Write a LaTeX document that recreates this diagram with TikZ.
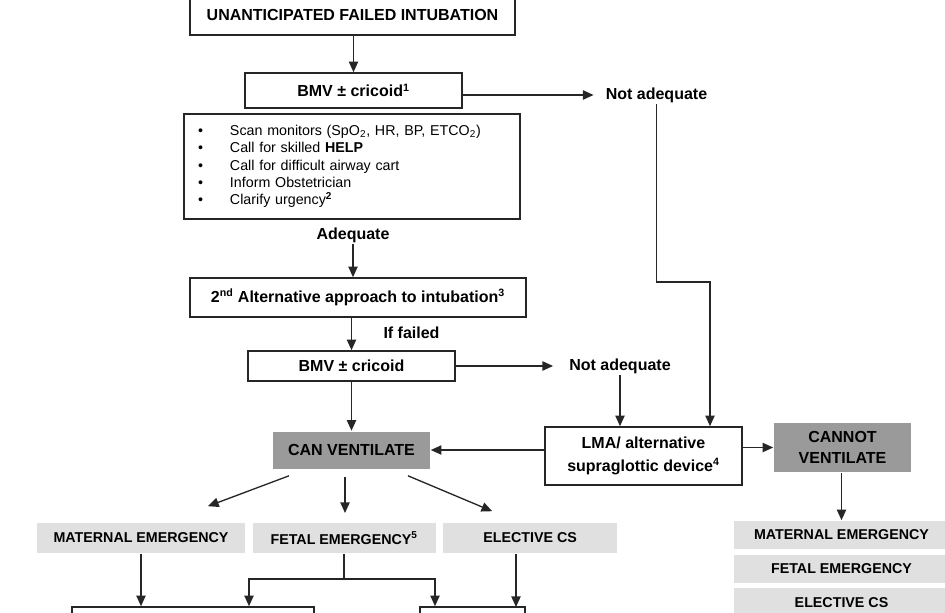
\documentclass[tikz,border=0pt]{standalone}
\usepackage{fontspec}
\setmainfont{Liberation Sans}
\usetikzlibrary{arrows.meta,positioning}
\definecolor{ink}{HTML}{262626}
\definecolor{shade}{HTML}{9A9A9A}
\definecolor{pale}{HTML}{E0E0E0}
\tikzset{
  basebox/.style={draw=ink,line width=1.2pt,fill=white,align=center,inner sep=0pt,font=\fontsize{12}{17}\selectfont\bfseries},
  shadebox/.style={basebox,draw=none,fill=shade},
  palebox/.style={basebox,draw=none,fill=pale,font=\fontsize{10.7}{13}\selectfont\bfseries},
  lbl/.style={inner sep=1pt,font=\fontsize{12}{14}\selectfont\bfseries},
  flow/.style={-{Triangle[length=8pt,width=7pt]},line width=1pt,draw=ink},
  link/.style={line width=1pt,draw=ink}
}

\begin{document}
\begin{tikzpicture}[x=0.75pt,y=-0.75pt,
    rowbox/.style={palebox,minimum height=22.5pt},
    stackbox/.style={palebox,minimum width=161.25pt,minimum height=21pt}
  ]
  \useasboundingbox (0,0) rectangle (945,613);
  % main column
  \node[basebox,minimum width=243.75pt,minimum height=30pt] (unant) at (352.5,15) {UNANTICIPATED FAILED INTUBATION};
  \node[basebox,minimum width=162.75pt,minimum height=26.25pt] (bmv1) at (353.5,90.5) {BMV ± cricoid\textsuperscript{1}};
  \node[lbl] (na1) at (656.5,95) {Not adequate};
  \node[basebox,font=\fontsize{10.7}{13}\selectfont,text width=231pt,inner xsep=10.5pt,minimum height=78.75pt,align=left] (checks) at (352,166.5) {%
    \makebox[24pt][l]{\textbullet}Scan monitors (SpO\textsubscript{2}, HR, BP, ETCO\textsubscript{2})\\
    \makebox[24pt][l]{\textbullet}Call for skilled \textbf{HELP}\\
    \makebox[24pt][l]{\textbullet}Call for difficult airway cart\\
    \makebox[24pt][l]{\textbullet}Inform Obstetrician\\
    \makebox[24pt][l]{\textbullet}Clarify urgency\textsuperscript{\textbf{2}}};
  \node[lbl] (adeq) at (353,235) {Adequate};
  \node[basebox,minimum width=252pt,minimum height=29.25pt] (alt) at (358,297.5) {2\textsuperscript{nd} Alternative approach to intubation\textsuperscript{3}};
  \node[lbl] (iffail) at (411.5,333) {If failed};
  \node[basebox,minimum width=155.25pt,minimum height=22.5pt] (bmv2) at (351.5,366) {BMV ± cricoid};
  \node[lbl] (na2) at (620,366) {Not adequate};
  \coordinate (jog) at (710,282);

  % ventilation
  \node[shadebox,minimum width=117.75pt,minimum height=27.75pt] (can) at (351.5,450) {CAN VENTILATE};
  \node[basebox,minimum width=147.75pt,minimum height=43.5pt] (lma) at (643.5,456) {LMA/ alternative\\supraglottic device\textsuperscript{4}};
  \node[shadebox,font=\fontsize{12}{15.75}\selectfont\bfseries,minimum width=102.75pt,minimum height=36.75pt] (cannot) at (842.5,447.5) {CANNOT\\VENTILATE};

  % outcomes
  \node[rowbox,minimum width=156pt] (matL) at (141,538) {MATERNAL EMERGENCY};
  \node[rowbox,minimum width=137.25pt,right=4.5pt of matL] (fetL) {FETAL EMERGENCY\textsuperscript{5}};
  \node[rowbox,minimum width=130.5pt,right=4.5pt of fetL] (elecL) {ELECTIVE CS};
  \node[stackbox] (matR) at (841.5,535) {MATERNAL EMERGENCY};
  \node[stackbox,below=3pt of matR] (fetR) {FETAL EMERGENCY};
  \node[stackbox,below=3pt of fetR] (elecR) {ELECTIVE CS};
  \node[basebox,minimum width=181.5pt,minimum height=30pt] (outL) at (193,627) {};
  \node[basebox,minimum width=78.75pt,minimum height=30pt] (outR) at (472.5,627) {};
  \coordinate (fork) at (344,579);
  \coordinate (elecdrop) at (516,607);
  \coordinate (fetdrop) at (345,513);

  \draw[flow] (unant.south -| bmv1) -- (bmv1.north);
  \draw[flow,shorten >=8pt] (bmv1.east |- na1.west) -- (na1.west);
  \draw[flow] (adeq.south) -- (adeq.south |- alt.north);
  \draw[flow] (bmv2.north |- alt.south) -- (bmv2.north);
  \draw[flow,shorten >=11pt] (bmv2.east) -- (na2.west);
  \draw[flow] (bmv2.south) -- (can.north);
  \draw[flow] (na2.south) -- (na2.south |- lma.north);
  \draw[flow] (na1.south) |- (jog) -- (jog |- lma.north);
  \draw[flow] (lma.west |- can.east) -- (can.east);
  \draw[flow] (lma.east |- cannot.west) -- (cannot.west);
  \draw[flow] (cannot.south -| matR) -- (matR.north);
  \draw[flow] ([shift={(-62.5,6.5)}]can.south) -- ([shift={(67,-16)}]matL.north);
  \draw[flow] ([yshift=-5.6pt]fetdrop |- can.south) -- (fetdrop);
  \draw[flow] ([shift={(56.5,6.5)}]can.south) -- ([shift={(-38,-11)}]elecL.north);
  \draw[flow] (matL.south) -- (matL.south |- outL.north);
  \draw[link] (fork |- fetL.south) -- (fork);
  \draw[flow] (fork) -| ([shift={(56,0)}]outL.north);
  \draw[flow] (fork) -| ([shift={(-37.5,0)}]outR.north);
  \draw[flow] (elecdrop |- elecL.south) -- (elecdrop);
\end{tikzpicture}
\end{document}
